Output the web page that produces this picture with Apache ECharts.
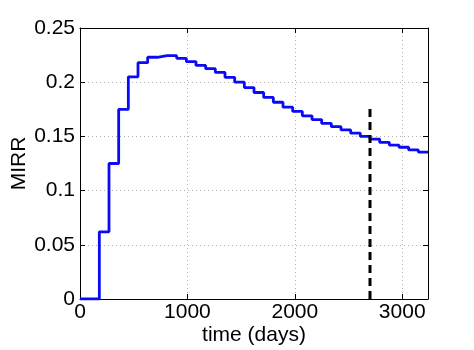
<!DOCTYPE html>
<html>
<head>
<meta charset="utf-8">
<script src="https://cdn.jsdelivr.net/npm/echarts@6/dist/echarts.min.js"></script>
<style>
  html, body { margin: 0; padding: 0; background: #fff; }
  #chart { width: 474px; height: 350px; }
</style>
</head>
<body>
<div id="chart"></div>
<script>
    // step start (days) and MIRR level held until the next step
    const stepDays = [0, 180, 270, 360, 450, 540, 630, 720, 810, 900, 990, 1080, 1170, 1260,
        1350, 1440, 1530, 1620, 1710, 1800, 1890, 1980, 2070, 2160, 2250, 2340, 2430, 2520,
        2610, 2700, 2790, 2880, 2970, 3060, 3150, 3240];
    const mirr = [0, 0.062, 0.125, 0.175, 0.205, 0.218, 0.223, 0.2245, 0.2245, 0.222, 0.219,
        0.2155, 0.2125, 0.209, 0.2045, 0.2, 0.195, 0.1905, 0.186, 0.1815, 0.177, 0.173, 0.169,
        0.1655, 0.162, 0.159, 0.156, 0.153, 0.15, 0.1475, 0.1445, 0.142, 0.14, 0.1375, 0.1355, 0.1355];
    // dashed marker
    const markerDay = 2700;
    const markerTop = 0.18;

    const xMax = 3240;
    const font = 'Liberation Sans, Arial, sans-serif';

    let chart = echarts.init(document.getElementById('chart'));

    let lineData = [];
    for (let i = 0; i < stepDays.length; ++i) {
        lineData.push([stepDays[i], mirr[i]]);
    }

    let gridLine = {show: true, lineStyle: {color: '#b0b0b0', type: [1, 3], width: 1}};
    let boxLine = {show: true, onZero: false, lineStyle: {color: '#000', width: 1}};
    let tick = {show: true, inside: true, length: 5, lineStyle: {color: '#000'}};

    let options = {
        animation: false,
        grid: {left: 80, right: 46, top: 28, bottom: 51, outerBoundsMode: 'none', containLabel: false},
        xAxis: [
            {
                type: 'value', min: 0, max: xMax, interval: 1000,
                axisLine: boxLine, axisTick: tick, splitLine: gridLine,
                axisLabel: {
                    color: '#000', fontSize: 21, fontFamily: font, margin: 3, showMaxLabel: false,
                    formatter: v => String(v)
                },
                name: 'time (days)', nameLocation: 'middle', nameGap: 26, nameMoveOverlap: false,
                nameTextStyle: {color: '#000', fontSize: 21, fontFamily: font}
            },
            {
                type: 'value', min: 0, max: xMax, interval: 1000, position: 'top',
                axisLine: boxLine, axisTick: tick, splitLine: {show: false}, axisLabel: {show: false}
            }
        ],
        yAxis: [
            {
                type: 'value', min: 0, max: 0.25, interval: 0.05,
                axisLine: boxLine, axisTick: tick, splitLine: gridLine,
                axisLabel: {color: '#000', fontSize: 21, fontFamily: font, margin: 5},
                name: 'MIRR', nameLocation: 'middle', nameGap: 50, nameMoveOverlap: false,
                nameTextStyle: {color: '#000', fontSize: 21, fontFamily: font}
            },
            {
                type: 'value', min: 0, max: 0.25, interval: 0.05, position: 'right',
                axisLine: boxLine, axisTick: tick, splitLine: {show: false}, axisLabel: {show: false}
            }
        ],
        series: [
            {
                type: 'line', step: 'end', data: lineData, showSymbol: false,
                lineStyle: {color: '#0a0af5', width: 2.8}
            },
            {
                type: 'line', data: [[markerDay, 0], [markerDay, markerTop]], showSymbol: false,
                lineStyle: {color: '#000', width: 3, type: [8, 5]}
            }
        ]
    };
    chart.setOption(options);
</script>
</body>
</html>
